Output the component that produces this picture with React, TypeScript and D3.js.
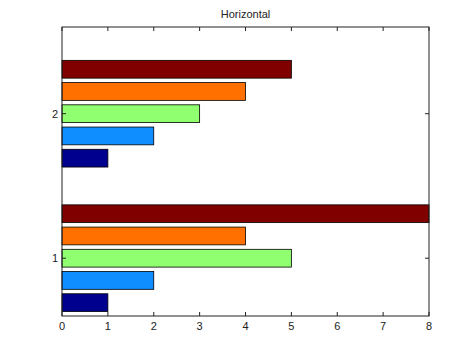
import React from "react";
import * as d3 from "d3";

const categories = [1, 2];
const seriesColors = ["#00008F", "#0F8FFF", "#90FF70", "#FF7000", "#800000"];
// values[series][category]
const series1 = [1, 1];
const series2 = [2, 2];
const series3 = [5, 3];
const series4 = [4, 4];
const series5 = [8, 5];
const allSeries = [series1, series2, series3, series4, series5];
const xTicks = [0, 1, 2, 3, 4, 5, 6, 7, 8];
const xDomain: [number, number] = [0, 8];
const yDomain: [number, number] = [0.6, 2.6];
const title = "Horizontal";

export default function App() {
  const W = 474, H = 355;
  const left = 62, right = 429, top = 27, bottom = 316;
  const x = d3.scaleLinear().domain(xDomain).range([left, right]);
  const y = d3.scaleLinear().domain(yDomain).range([bottom, top]);
  const n = allSeries.length;
  const groupWidth = Math.min(0.8, n / (n + 1.5));
  const slot = groupWidth / n;
  const barH = slot * 0.8;
  const font = "Liberation Sans, Arial, sans-serif";
  const tickLen = 4;
  return (
    <svg width={W} height={H} style={{ position: "absolute", left: 0, top: 0 }}>
      <rect x={0} y={0} width={W} height={H} fill="#fff" />
      <rect x={left} y={top} width={right - left} height={bottom - top} fill="#fff" />
      {categories.map((c, ci) =>
        allSeries.map((s, si) => {
          const center = c - groupWidth / 2 + slot * (si + 0.5);
          const y0 = y(center + barH / 2);
          const y1 = y(center - barH / 2);
          return (
            <rect
              key={`${ci}-${si}`}
              x={x(0)}
              y={y0}
              width={x(s[ci]) - x(0)}
              height={y1 - y0}
              fill={seriesColors[si]}
              stroke="#000"
              strokeWidth={0.8}
            />
          );
        })
      )}
      <rect x={left} y={top} width={right - left} height={bottom - top} fill="none" stroke="#222" strokeWidth={1} />
      {xTicks.map((t) => (
        <g key={t}>
          <line x1={x(t)} x2={x(t)} y1={bottom} y2={bottom - tickLen} stroke="#222" />
          <line x1={x(t)} x2={x(t)} y1={top} y2={top + tickLen} stroke="#222" />
          <text x={x(t)} y={bottom + 14} textAnchor="middle" fontFamily={font} fontSize={11} fill="#222">
            {t}
          </text>
        </g>
      ))}
      {categories.map((c) => (
        <g key={c}>
          <line x1={left} x2={left + tickLen} y1={y(c)} y2={y(c)} stroke="#222" />
          <line x1={right} x2={right - tickLen} y1={y(c)} y2={y(c)} stroke="#222" />
          <text x={left - 4} y={y(c) + 4} textAnchor="end" fontFamily={font} fontSize={11} fill="#222">
            {c}
          </text>
        </g>
      ))}
      <text x={(left + right) / 2} y={18} textAnchor="middle" fontFamily={font} fontSize={11} fill="#222">
        {title}
      </text>
    </svg>
  );
}
